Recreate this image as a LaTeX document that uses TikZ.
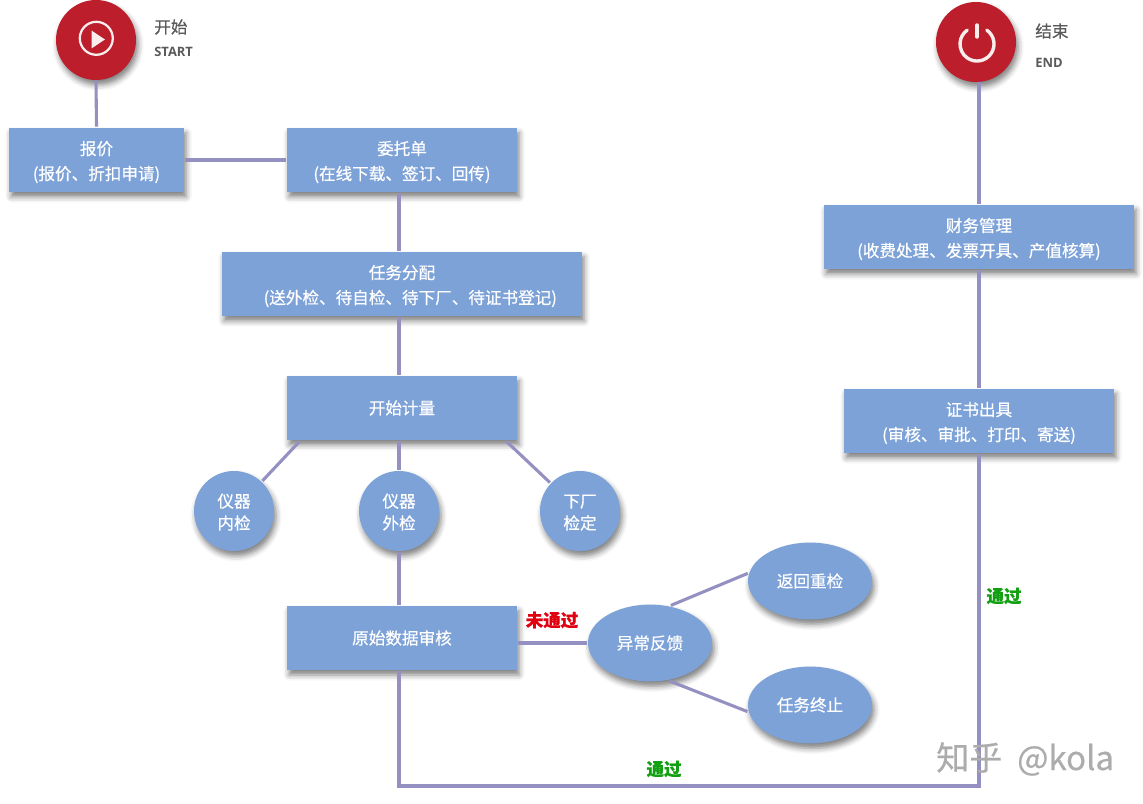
\documentclass[tikz,border=0pt]{standalone}
\usepackage{fontspec}
\setmainfont[FakeBold=0.5]{Noto Sans CJK SC}
\setsansfont{Open Sans}
\usepackage{xcolor}
\usepackage{tikz}
\usetikzlibrary{shapes.geometric,calc,shadows.blur}
\definecolor{boxblue}{HTML}{7DA2D8}
\definecolor{linkblue}{HTML}{9490C2}
\definecolor{btnred}{HTML}{BC1F2B}
\definecolor{titlegray}{HTML}{5A5A5A}
\definecolor{passgreen}{HTML}{12A012}
\definecolor{failred}{HTML}{E00010}
\newcommand{\boxstrut}{\rule{0pt}{12.8pt}}
\newcommand{\ballstrut}{\rule{0pt}{11.4pt}}

\begin{document}
\begin{tikzpicture}[
    x=0.025cm, y=-0.025cm,
    softshadow/.style={blur shadow={shadow xshift=1.5pt, shadow yshift=-3.5pt, shadow blur radius=4pt, shadow opacity=50}},
    box/.style={rectangle, fill=boxblue, minimum width=#1, minimum height=1.6cm, inner sep=0pt, outer sep=1pt, softshadow,
        text=white, align=center, font=\fontsize{11.8pt}{17.8pt}\selectfont},
    ball/.style={circle, fill=boxblue, minimum size=2cm, inner sep=0pt, outer sep=1pt, softshadow,
        text=white, align=center, font=\fontsize{11.8pt}{15.6pt}\selectfont},
    oval/.style={ellipse, fill=boxblue, minimum width=3.1cm, minimum height=1.92cm, inner sep=0pt, outer sep=1pt, softshadow,
        text=white, align=center, font=\fontsize{11.8pt}{14pt}\selectfont},
    btn/.style={circle, fill=btnred, minimum size=2cm, inner sep=0pt, softshadow},
    link/.style={draw=linkblue, line width=2.2pt},
    icon/.style={draw=white!92!btnred, line width=#1, line cap=round},
    title/.style={anchor=west, text=titlegray, inner sep=0pt, font=\fontsize{11.8pt}{14pt}\selectfont},
    subtitle/.style={anchor=west, text=titlegray, inner sep=0pt, font=\sffamily\bfseries\fontsize{9.2pt}{11pt}\selectfont},
    note/.style={text=#1, inner sep=0pt, font=\bfseries\fontsize{12.4pt}{14pt}\selectfont}
]
    \useasboundingbox (0,0) rectangle (1143,803);

    \node[btn] (startbtn) at (96,40) {};
    \node[btn] (endbtn) at (976,42) {};

    \node[box=4.375cm] (quote) at (96.5,160) {\boxstrut 报价\\(报价、折扣申请)};
    \node[box=5.75cm] (order) at (402,160) {\boxstrut 委托单\\(在线下载、签订、回传)};
    \node[box=9cm] (assign) at (402,284) {\boxstrut 任务分配\\\hspace*{1em}(送外检、待自检、待下厂、待证书登记)};
    \node[box=5.75cm] (measure) at (402,408) {开始计量};
    \node[box=5.75cm] (review) at (402,638) {原始数据审核};
    \node[box=7.75cm] (finance) at (979,237) {\boxstrut 财务管理\\(收费处理、发票开具、产值核算)};
    \node[box=6.75cm] (cert) at (979,421) {\boxstrut 证书出具\\(审核、审批、打印、寄送)};

    \node[ball] (inner) at (234,511) {\ballstrut 仪器\\内检};
    \node[ball] (outer) at (399,511) {\ballstrut 仪器\\外检};
    \node[ball] (plant) at (580,511) {\ballstrut 下厂\\检定};

    \node[oval] (feedback) at (650,643) {异常反馈};
    \node[oval] (retest) at (810,581) {返回重检};
    \node[oval] (stop) at (810,705) {任务终止};

    \coordinate (cornerL) at (399,786);
    \coordinate (cornerR) at (979,786);

    \draw[link] (startbtn.south) -- (quote.north);
    \draw[link] (quote.east) -- (order.west);
    \draw[link] (order.south -| outer) -- (assign.north -| outer);
    \draw[link] (assign.south -| outer) -- (measure.north -| outer);
    \draw[link] ([xshift=.35cm]measure.south west) -- (inner);
    \draw[link] (measure.south -| outer) -- (outer.north);
    \draw[link] ([xshift=-.3cm]measure.south east) -- (plant);
    \draw[link] (outer.south) -- (review.north -| outer);
    \draw[link] (review.east |- feedback) -- (feedback.west);
    \draw[link] (feedback.61) -- (retest.173);
    \draw[link] (feedback.-63) -- (stop.186);
    \draw[link] (review.south -| outer) -- (cornerL) -- (cornerR) -- (cert.south);
    \draw[link] (cert.north) -- (finance.south);
    \draw[link] (finance.north) -- (finance.north |- endbtn.south);

    % the two icons
    \draw[icon=1.6pt] (96.3,38.3) circle (16.5);
    \fill[white!92!btnred] (91.7,30.7) -- (105,39.5) -- (91.7,48.3) -- cycle;
    \draw[icon=2.4pt] (986.75,30.1) arc (-55:235:17);
    \draw[icon=2.4pt] (977,25) -- (977,37);

    \node[title] (starttitle) at (154,27) {开始};
    \node[subtitle] (startsub) at (154,52) {START};
    \node[title] (endtitle) at (1035,31) {结束};
    \node[subtitle] (endsub) at (1035,63) {END};

    \node[note=failred] (failnote) at (552,620) {未通过};
    \node[note=passgreen] (passright) at (1004,596) {通过};
    \node[note=passgreen] (passbottom) at (664,769) {通过};

    \node[text=gray!65, inner sep=0pt, anchor=west, font=\fontsize{23.5pt}{26pt}\selectfont] (mark) at (936,759) {知乎\hspace{0.45em}@kola};
\end{tikzpicture}
\end{document}
